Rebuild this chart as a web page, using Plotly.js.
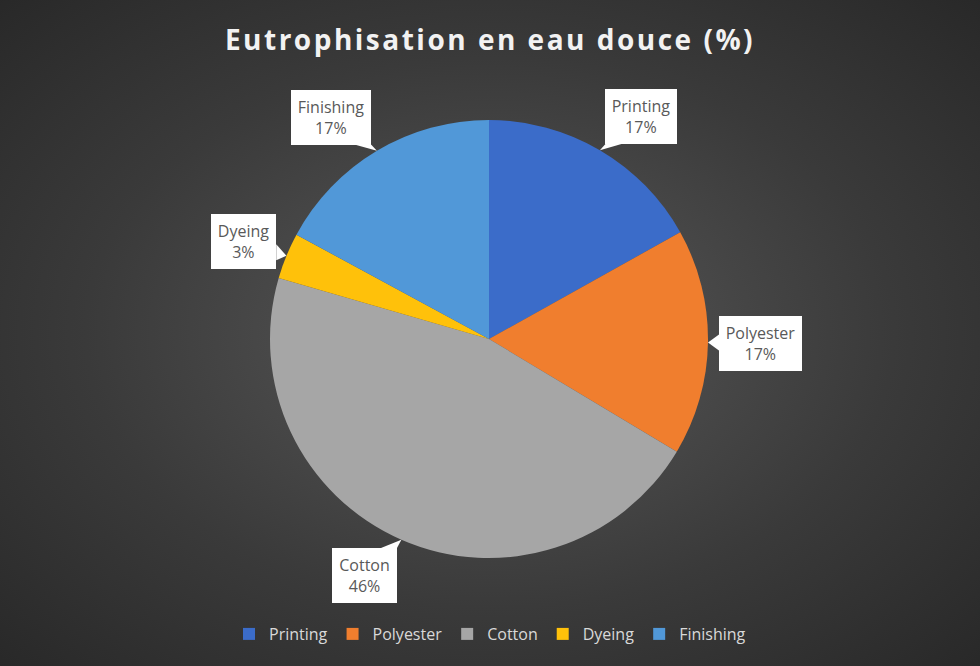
<!DOCTYPE html>
<html>
<head>
<meta charset="utf-8">
<script src="https://cdn.plot.ly/plotly-3.0.1.min.js"></script>
<style>
  html, body { margin: 0; padding: 0; }
  #chart {
    width: 980px; height: 666px;
    background: radial-gradient(ellipse 75% 75% at 50% 50%, #595959 0%, #3a3a3a 55%, #262626 100%);
  }
  #chart .gtitle { letter-spacing: 2.5px; }
</style>
</head>
<body>
<div id="chart"></div>
<script>
// Data
const categories = ["Printing", "Polyester", "Cotton", "Dyeing", "Finishing"];
const values = [16.9, 16.7, 45.9, 3.4, 17.1];
const colors = ["#3b6cc9", "#f07e2e", "#a6a6a6", "#ffc10a", "#5198d8"];
const chartTitle = "Eutrophisation en eau douce (%)";

// Layout geometry (pixels)
const W = 980, H = 666;
const cx = 489, cy = 339, R = 219;
const labelFont = "Open Sans, Liberation Sans, sans-serif";
const labelSize = 16;

const ctx = document.createElement("canvas").getContext("2d");
ctx.font = labelSize + "px 'Open Sans'";

const total = values.reduce((a, b) => a + b, 0);
const annotations = [];
const shapes = [];
const px = x => x / W, py = y => 1 - y / H;
let cum = 0;
values.forEach((v, i) => {
  const mid = (cum + v / 2) / total * 2 * Math.PI;
  cum += v;
  const s = Math.sin(mid), c = Math.cos(mid);
  const tipX = cx + R * s, tipY = cy - R * c;
  const pct = Math.round(v / total * 100) + "%";
  const tw = Math.max(ctx.measureText(categories[i]).width, ctx.measureText(pct).width);
  const bw = Math.round(tw + 14), bh = 55;
  const hw = bw / 2, hh = bh / 2;
  const bx = tipX + Math.sign(s) * hw + 11 * s;
  const by = tipY - 39 * c;
  annotations.push({
    xref: "paper", yref: "paper",
    x: px(bx), y: py(by), xanchor: "center", yanchor: "middle",
    width: bw, height: bh, valign: "middle",
    text: categories[i] + "<br>" + pct,
    showarrow: false,
    bgcolor: "#ffffff", borderwidth: 0, borderpad: 0,
    font: { family: labelFont, size: labelSize, color: "#595959" },
    align: "center"
  });
  // callout wedge from box edge to slice edge
  const dx = tipX - bx, dy = tipY - by;
  let b1, b2;
  const half = 8;
  if (Math.abs(dx) / hw > Math.abs(dy) / hh) {
    const ex = bx + Math.sign(dx) * hw;
    let ey = by + dy * (hw / Math.abs(dx));
    ey = Math.min(Math.max(ey, by - hh + half), by + hh - half);
    b1 = [ex, ey - half]; b2 = [ex, ey + half];
  } else {
    const ey = by + Math.sign(dy) * hh;
    let ex = bx + dx * (hh / Math.abs(dy));
    ex = Math.min(Math.max(ex, bx - hw + half), bx + hw - half);
    b1 = [ex - half, ey]; b2 = [ex + half, ey];
  }
  shapes.push({
    type: "path", xref: "paper", yref: "paper", layer: "above",
    path: `M ${px(b1[0])} ${py(b1[1])} L ${px(tipX)} ${py(tipY)} L ${px(b2[0])} ${py(b2[1])} Z`,
    fillcolor: "#ffffff", line: { width: 0 }
  });
});

const trace = {
  type: "pie",
  labels: categories,
  values: values,
  sort: false,
  direction: "clockwise",
  rotation: 0,
  textinfo: "none",
  hoverinfo: "label+percent",
  marker: { colors: colors, line: { width: 0 } },
  domain: { x: [(cx - R) / W, (cx + R) / W], y: [1 - (cy + R) / H, 1 - (cy - R) / H] }
};

const layout = {
  width: W, height: H,
  margin: { l: 0, r: 0, t: 0, b: 0 },
  paper_bgcolor: "rgba(0,0,0,0)",
  plot_bgcolor: "rgba(0,0,0,0)",
  title: {
    text: "<b>" + chartTitle + "</b>",
    x: 0.5, xanchor: "center", y: 1 - 40 / H, yanchor: "middle",
    font: { family: "Open Sans, Liberation Sans, sans-serif", size: 28, color: "#f2f2f2" }
  },
  showlegend: true,
  legend: {
    orientation: "h", x: 0.5, xanchor: "center", y: 1 - 634 / H, yanchor: "middle",
    font: { family: "Open Sans, Liberation Sans, sans-serif", size: 16, color: "#d9d9d9" },
    bgcolor: "rgba(0,0,0,0)", itemwidth: 30, traceorder: "normal"
  },
  shapes: shapes,
  annotations: annotations
};

Plotly.newPlot("chart", [trace], layout, { displayModeBar: false, staticPlot: true });
</script>
</body>
</html>
